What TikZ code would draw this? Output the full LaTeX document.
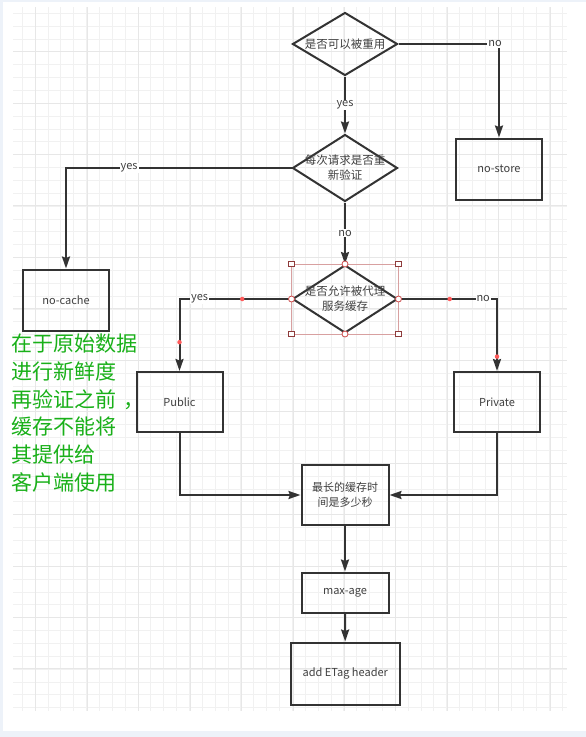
\documentclass[tikz,border=0pt]{standalone}
\usepackage{fontspec}
\setmainfont{Noto Sans CJK SC}
\usepackage{xcolor}
\usetikzlibrary{shapes.geometric,arrows.meta}

\definecolor{linegray}{HTML}{333333}
\definecolor{textgray}{HTML}{404040}
\definecolor{gridminor}{HTML}{F1F1F1}
\definecolor{gridmajor}{HTML}{E7E7E7}
\definecolor{bgblue}{HTML}{EDF2F9}
\definecolor{notegreen}{HTML}{19B019}
\definecolor{ptred}{HTML}{FF5B5B}
\definecolor{selred}{HTML}{8E3B3B}
\definecolor{selpink}{HTML}{D8A0A0}

\begin{document}
\begin{tikzpicture}[x=1pt,y=-1pt,
  box/.style={draw=linegray,line width=2pt,minimum width=86pt,minimum height=60pt,
    inner sep=0pt,align=center,text=textgray,font=\fontsize{11}{15}\selectfont},
  decision/.style={diamond,draw=linegray,line width=2pt,minimum width=105pt,inner sep=0pt},
  dtext/.style={align=center,text=textgray,font=\fontsize{11.5}{15}\selectfont},
  flow/.style={draw=linegray,line width=2pt,-{Stealth[length=12pt,width=8pt,inset=1.5pt]}},
  lbl/.style={fill=white,inner sep=1pt,text=textgray,font=\fontsize{11}{12}\selectfont},
  wp/.style={circle,fill=ptred,inner sep=0pt,minimum size=4.5pt},
  handle/.style={draw=selred,fill=white,line width=0.8pt,inner sep=0pt,minimum size=5.5pt},
  vhandle/.style={circle,draw=ptred!80!black,fill=white,line width=0.8pt,inner sep=0pt,minimum size=6pt},
 ]
 \useasboundingbox (0,0) rectangle (586,737);
 % page and grid
 \fill[white] (0,0) rectangle (586,737);
 \fill[bgblue] (0,0) rectangle (586,2);
 \fill[bgblue] (0,0) rectangle (3,737);
 \fill[bgblue] (0,731) rectangle (586,737);
 \foreach \k in {1,...,43}
   \draw[gridminor,line width=1pt] ({9.5+12.86*\k},7) -- ({9.5+12.86*\k},711);
 \foreach \k in {1,...,55}
   \draw[gridminor,line width=1pt] (13,{0.45+12.86*\k}) -- (567,{0.45+12.86*\k});
 \foreach \m in {0,...,10}
   \draw[gridmajor,line width=1pt] ({35.8+51.44*\m},7) -- ({35.8+51.44*\m},711);
 \foreach \m in {1,...,13}
   \draw[gridmajor,line width=1pt] (13,{0.2+51.44*\m}) -- (567,{0.2+51.44*\m});

 % decisions
 \node[decision,minimum height=63pt,label={[dtext]center:是否可以被重用}] (reuse) at (345,44) {};
 \node[decision,minimum height=67pt,label={[dtext]center:{每次请求是否重\\新验证}}] (revalidate) at (345,168) {};
 \node[decision,minimum height=68pt,label={[dtext]center:{是否允许被代理\\服务缓存}}] (proxy) at (345,299) {};

 % boxes
 \node[box,minimum height=61pt] (nostore) at (499,169) {no-store};
 \node[box,minimum height=61pt] (nocache) at (66,300) {no-cache};
 \node[box] (public) at (179.5,402) {Public};
 \node[box] (private) at (497,402) {Private};
 \node[box,minimum width=87pt] (maxtime) at (345,495) {最长的缓存时\\间是多少秒};
 \node[box,minimum width=87pt,minimum height=40pt] (maxage) at (345,592.5) {max-age};
 \node[box,minimum width=109pt,minimum height=62pt] (etag) at (345.3,673.5) {add ETag header};

 % note
 \node[anchor=north west,inner sep=0pt,align=left,text=notegreen,
   font=\fontsize{21}{27.7}\selectfont] (note) at (11,334)
   {在于原始数据\\进行新鲜度\\再验证之前\kern7pt，\\缓存不能将\\其提供给\\客户端使用};

 % connectors
 \draw[flow] (reuse.east) -| node[lbl,pos=0.48] {no} (nostore.north);
 \draw[flow] (reuse.south) -- node[lbl] {yes} (revalidate.north);
 \draw[flow] (revalidate.west) -| node[lbl,pos=0.36] {yes} (nocache.north);
 \draw[flow] (revalidate.south) -- node[lbl] {no} (proxy.north);
 \draw[flow] (proxy.west) -| node[lbl,pos=0.41] {yes} node[wp,pos=0.22] {} node[wp,pos=0.8] {} (public.north);
 \draw[flow] (proxy.east) -| node[lbl,pos=0.43] {no} node[wp,pos=0.26] {} node[wp,pos=0.9] {} (private.north);
 \draw[flow] (public.south) |- (maxtime.west);
 \draw[flow] (private.south) |- (maxtime.east);
 \draw[flow] (maxtime) -- (maxage);
 \draw[flow] (maxage) -- (etag);

 % selection handles
 \draw[selpink,line width=0.7pt] (proxy.west |- proxy.north) rectangle (proxy.east |- proxy.south);
 \foreach \a/\b in {west/north,east/north,west/south,east/south}
   \node[handle] at (proxy.\a |- proxy.\b) {};
 \foreach \a in {north,south,east,west}
   \node[vhandle] at (proxy.\a) {};
\end{tikzpicture}
\end{document}
